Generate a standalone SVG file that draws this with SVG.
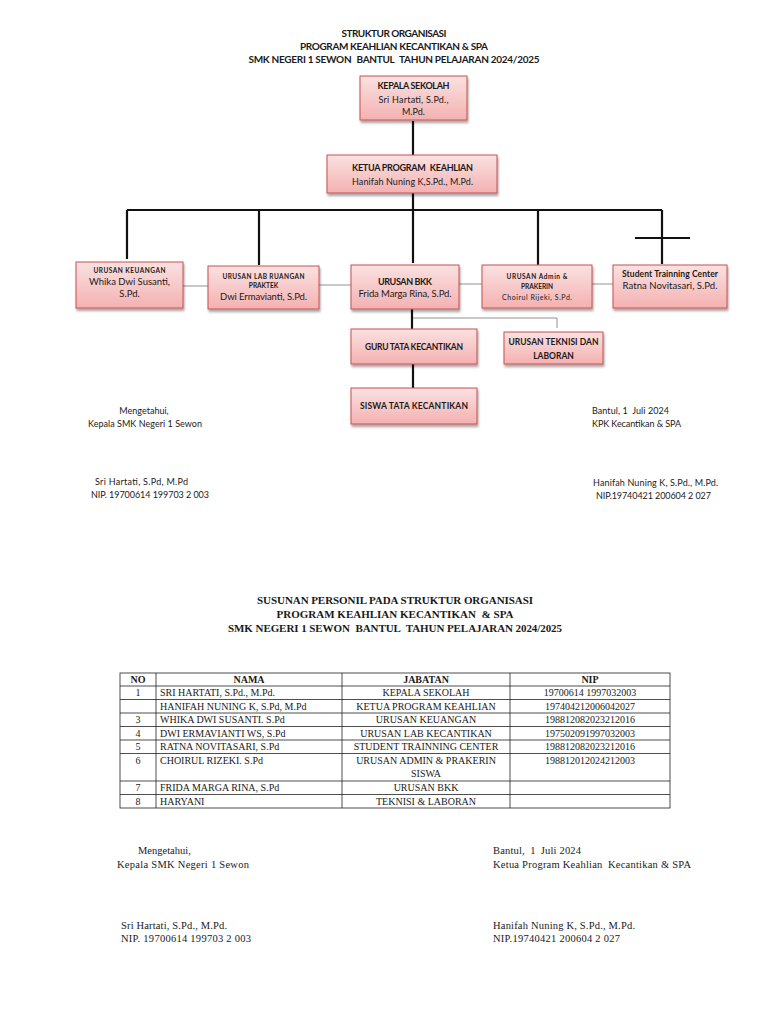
<svg xmlns="http://www.w3.org/2000/svg" width="768" height="1024" viewBox="0 0 768 1024">
<style>
.s{font-family:Lato,"Liberation Sans",sans-serif;fill:#1a1a1a}
.b{font-weight:bold}
.t{font-family:"Liberation Serif","Times New Roman",serif;fill:#1a1a1a}
.box{fill:url(#pk);stroke:#c9514e;stroke-width:1}
.thick{stroke:#111;stroke-width:2.2;fill:none}
.thin{stroke:#777;stroke-width:0.8;fill:none}
.grid{stroke:#222;stroke-width:0.8;fill:none}
</style>
<defs>
<linearGradient id="pk" x1="0" y1="0" x2="0" y2="1">
<stop offset="0" stop-color="#fbe1e1"/>
<stop offset="1" stop-color="#f4b1b1"/>
</linearGradient>
<filter id="sh" x="-10%" y="-10%" width="130%" height="140%">
<feDropShadow dx="1" dy="2.5" stdDeviation="1" flood-color="#000" flood-opacity="0.35"/>
</filter>
</defs>
<rect width="768" height="1024" fill="#fff"/>
<g id="title" class="s b" font-size="10" text-anchor="middle">
<text x="394" y="37" textLength="105">STRUKTUR ORGANISASI</text>
<text x="394" y="50" textLength="188">PROGRAM KEAHLIAN KECANTIKAN &amp; SPA</text>
<text x="394" y="63" textLength="291">SMK NEGERI 1 SEWON <tspan dx="3">BANTUL</tspan> <tspan dx="3">TAHUN</tspan> PELAJARAN 2024/2025</text>
</g>
<g id="connectors">
<path class="thick" d="M413 121V155M413 193V263M127 210H662M127 210V259M259 210V265M538 210V267M662 210V264M412 309V329M413 364V388"/>
<path class="thick" d="M635 238H690" stroke-width="1.3"/>
<path class="thin" d="M183 286H208M319 285H351M459 284H482M592 284H615M413 318H557V328"/>
</g>
<g id="kepala">
<rect class="box" filter="url(#sh)" x="360" y="76" width="107" height="44"/>
<text class="s b" font-size="9" x="413.5" y="89" text-anchor="middle" textLength="72">KEPALA SEKOLAH</text>
<text class="s" font-size="9" x="413.5" y="103" text-anchor="middle" textLength="70">Sri Hartati, S.Pd.,</text>
<text class="s" font-size="9" x="413.5" y="115" text-anchor="middle">M.Pd.</text>
</g>
<g id="ketua">
<rect class="box" filter="url(#sh)" x="327" y="155" width="170" height="38"/>
<text class="s b" font-size="9" x="412.5" y="171" text-anchor="middle" textLength="121">KETUA PROGRAM <tspan dx="2.5">KEAHLIAN</tspan></text>
<text class="s" font-size="9" x="412.5" y="185" text-anchor="middle" textLength="121">Hanifah Nuning K,S.Pd., M.Pd.</text>
</g>
<g id="keuangan">
<rect class="box" filter="url(#sh)" x="76" y="262" width="107" height="46"/>
<text class="s b" font-size="6.5" x="129.5" y="273" text-anchor="middle" textLength="72">URUSAN KEUANGAN</text>
<text class="s" font-size="9.5" x="129.5" y="285" text-anchor="middle" textLength="81">Whika Dwi Susanti,</text>
<text class="s" font-size="9.5" x="129.5" y="297" text-anchor="middle">S.Pd.</text>
</g>
<g id="lab">
<rect class="box" filter="url(#sh)" x="208" y="266" width="111" height="43"/>
<text class="s b" font-size="6.5" x="263.5" y="279" text-anchor="middle" textLength="82">URUSAN LAB RUANGAN</text>
<text class="s b" font-size="6.5" x="263.5" y="288" text-anchor="middle">PRAKTEK</text>
<text class="s" font-size="9.5" x="263.5" y="300" text-anchor="middle" textLength="87">Dwi Ermavianti, S.Pd.</text>
</g>
<g id="bkk">
<rect class="box" filter="url(#sh)" x="351" y="265" width="108" height="44"/>
<text class="s b" font-size="9" x="405" y="285" text-anchor="middle" textLength="54">URUSAN BKK</text>
<text class="s" font-size="9.5" x="405" y="297" text-anchor="middle" textLength="93">Frida Marga Rina, S.Pd.</text>
</g>
<g id="admin">
<rect class="box" filter="url(#sh)" x="482" y="265" width="110" height="43"/>
<text class="s b" font-size="6.5" x="537" y="279" text-anchor="middle" textLength="61">URUSAN Admin &amp;</text>
<text class="s b" font-size="6.5" x="537" y="289" text-anchor="middle">PRAKERIN</text>
<text class="s" font-size="7" x="537" y="300" text-anchor="middle" textLength="70">Choirul Rijeki, S.Pd.</text>
</g>
<g id="student">
<rect class="box" filter="url(#sh)" x="613" y="265" width="114" height="43"/>
<text class="s b" font-size="8.5" x="670" y="277" text-anchor="middle" textLength="96">Student Trainning Center</text>
<text class="s" font-size="9.5" x="670" y="289" text-anchor="middle" textLength="95">Ratna Novitasari, S.Pd.</text>
</g>
<g id="guru">
<rect class="box" filter="url(#sh)" x="351" y="329" width="126" height="35"/>
<text class="s b" font-size="8.5" x="414" y="350" text-anchor="middle" textLength="98">GURU TATA KECANTIKAN</text>
</g>
<g id="teknisi">
<rect class="box" filter="url(#sh)" x="504" y="332" width="99" height="32"/>
<text class="s b" font-size="8.5" x="553.5" y="345" text-anchor="middle" textLength="90">URUSAN TEKNISI DAN</text>
<text class="s b" font-size="8.5" x="553.5" y="359" text-anchor="middle">LABORAN</text>
</g>
<g id="siswa">
<rect class="box" filter="url(#sh)" x="351" y="388" width="126" height="36"/>
<text class="s b" font-size="8.5" x="414" y="409" text-anchor="middle" textLength="108">SISWA TATA KECANTIKAN</text>
</g>
<g id="sig1" class="s" font-size="9">
<text x="144" y="414" text-anchor="middle">Mengetahui,</text>
<text x="88" y="427" textLength="114">Kepala SMK Negeri 1 Sewon</text>
<text x="95" y="485" textLength="93">Sri Hartati, S.Pd, M.Pd</text>
<text x="91" y="498" textLength="118">NIP. 19700614 199703 2 003</text>
<text x="592" y="414" textLength="77">Bantul, 1 <tspan dx="2.5">Juli</tspan> 2024</text>
<text x="592" y="427" textLength="89">KPK Kecantikan &amp; SPA</text>
<text x="593" y="486" textLength="125">Hanifah Nuning K, S.Pd., M.Pd.</text>
<text x="596" y="499" textLength="115">NIP.19740421 200604 2 027</text>
</g>
<g id="title2" class="t b" font-size="11" text-anchor="middle">
<text x="395" y="604" textLength="276">SUSUNAN PERSONIL PADA STRUKTUR ORGANISASI</text>
<text x="395" y="618" textLength="237">PROGRAM KEAHLIAN KECANTIKAN <tspan dx="3">&amp;</tspan> SPA</text>
<text x="395" y="632" textLength="334">SMK NEGERI 1 SEWON <tspan dx="3">BANTUL</tspan> <tspan dx="3">TAHUN</tspan> PELAJARAN 2024/2025</text>
</g>
<g id="table">
<rect class="grid" x="120" y="673" width="550" height="135"/>
<path class="grid" d="M156 673V808M342 673V808M510 673V808M120 686H670M120 699.5H670M120 713H670M120 726.5H670M120 740H670M120 753.5H670M120 781H670M120 794.5H670"/>
<g class="t" font-size="10">
<g font-weight="bold" text-anchor="middle">
<text x="138" y="683">NO</text>
<text x="249" y="683">NAMA</text>
<text x="426" y="683">JABATAN</text>
<text x="590" y="683">NIP</text>
</g>
<g text-anchor="middle">
<text x="138" y="696">1</text>
<text x="138" y="723">3</text>
<text x="138" y="737">4</text>
<text x="138" y="750">5</text>
<text x="138" y="764">6</text>
<text x="138" y="791">7</text>
<text x="138" y="805">8</text>
</g>
<g>
<text x="160" y="696">SRI HARTATI, S.Pd., M.Pd.</text>
<text x="160" y="710">HANIFAH NUNING K, S.Pd, M.Pd</text>
<text x="160" y="723">WHIKA DWI SUSANTI. S.Pd</text>
<text x="160" y="737">DWI ERMAVIANTI WS, S.Pd</text>
<text x="160" y="750">RATNA NOVITASARI, S.Pd</text>
<text x="160" y="764">CHOIRUL RIZEKI. S.Pd</text>
<text x="160" y="791">FRIDA MARGA RINA, S.Pd</text>
<text x="160" y="805">HARYANI</text>
</g>
<g text-anchor="middle">
<text x="426" y="696">KEPALA SEKOLAH</text>
<text x="426" y="710">KETUA PROGRAM KEAHLIAN</text>
<text x="426" y="723">URUSAN KEUANGAN</text>
<text x="426" y="737">URUSAN LAB KECANTIKAN</text>
<text x="426" y="750">STUDENT TRAINNING CENTER</text>
<text x="426" y="764">URUSAN ADMIN &amp; PRAKERIN</text>
<text x="426" y="777">SISWA</text>
<text x="426" y="791">URUSAN BKK</text>
<text x="426" y="805">TEKNISI &amp; LABORAN</text>
<text x="590" y="696">19700614 1997032003</text>
<text x="590" y="710">197404212006042027</text>
<text x="590" y="723">198812082023212016</text>
<text x="590" y="737">197502091997032003</text>
<text x="590" y="750">198812082023212016</text>
<text x="590" y="764">198812012024212003</text>
</g>
</g>
</g>
<g id="sig2" class="t" font-size="10.5">
<text x="138" y="854">Mengetahui,</text>
<text x="117" y="868" textLength="132">Kepala SMK Negeri 1 Sewon</text>
<text x="121" y="929" textLength="106">Sri Hartati, S.Pd., M.Pd.</text>
<text x="121" y="942" textLength="130">NIP. 19700614 199703 2 003</text>
<text x="493" y="854" textLength="88">Bantul, <tspan dx="2.5">1</tspan> <tspan dx="2.5">Juli</tspan> 2024</text>
<text x="493" y="868" textLength="198">Ketua Program Keahlian <tspan dx="2.5">Kecantikan</tspan> &amp; SPA</text>
<text x="493" y="929" textLength="142">Hanifah Nuning K, S.Pd., M.Pd.</text>
<text x="493" y="942" textLength="127">NIP.19740421 200604 2 027</text>
</g>
</svg>
